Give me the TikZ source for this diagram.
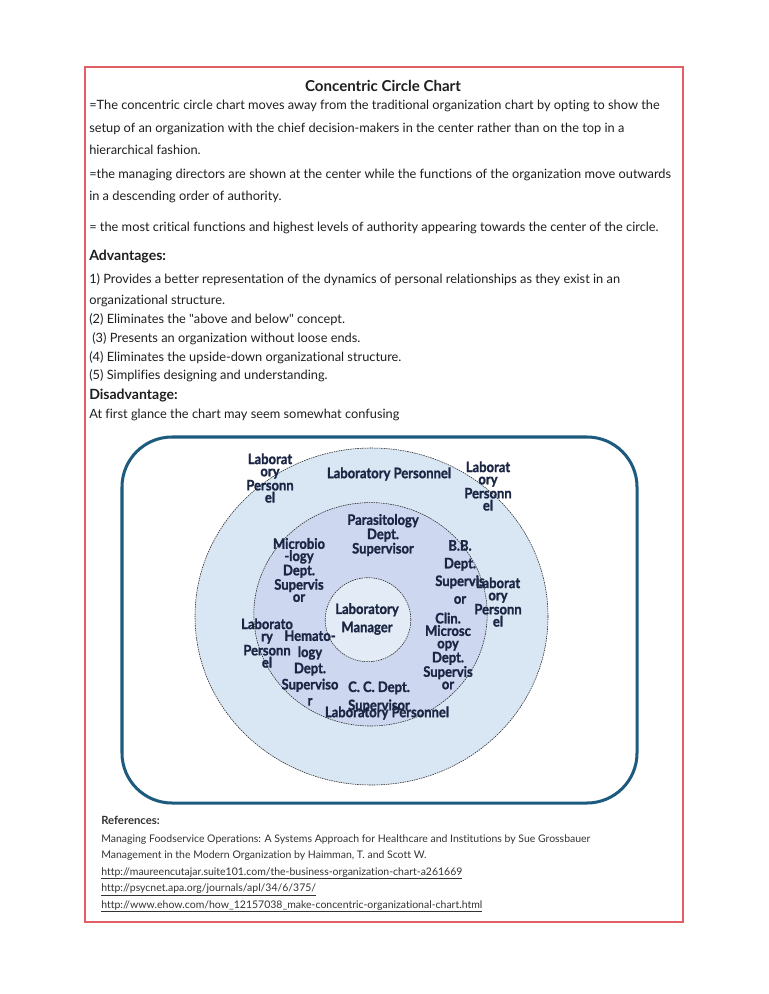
\documentclass[tikz,border=0pt]{standalone}
\usepackage{fontspec}
\setmainfont{Lato}[Ligatures=NoCommon]
\newfontfamily\labfont{Lato}[FakeStretch=0.9,Ligatures=NoCommon,BoldFeatures={FakeBold=1.3}]
\usepackage{tikz}
\definecolor{framered}{HTML}{E06068}
\definecolor{boxblue}{HTML}{1C5A7E}
\definecolor{labnavy}{HTML}{1B2644}
\definecolor{ringout}{HTML}{D9E6F3}
\definecolor{ringmid}{HTML}{CDD7EF}
\definecolor{ringin}{HTML}{E3ECF6}
\newcommand\labsize[1]{\labfont\bfseries\fontsize{11.5}{#1}\selectfont}
\tikzset{
  body/.style={anchor=base west,inner sep=0pt,text=black!88,font=\fontsize{10.2}{12}\selectfont},
  head/.style={body,font=\fontsize{11.2}{13}\selectfont\bfseries},
  refline/.style={anchor=base west,inner sep=0pt,text=black!80,font=\fontsize{8.35}{10}\selectfont},
  lab/.style={align=center,inner sep=0pt,text=labnavy,font=\labsize{9.7pt}},
  ring/.style={draw=black!85,line width=0.45pt,dash pattern=on 1.2pt off 0.7pt},
}
\begin{document}
\begin{tikzpicture}[x=0.28mm,y=-0.28mm]
  \useasboundingbox[fill=white] (0,0) rectangle (768,994);

  % page frame
  \draw[framered,line width=1.2pt] (85,67) rectangle (683,922);

  % text above the chart
  \node[head,anchor=base,font=\fontsize{12}{14}\selectfont\bfseries] (title) at (383,92) {Concentric Circle Chart};
  \node[body] (p1a) at (89,110) {=The concentric circle chart moves away from the traditional organization chart by opting to show the};
  \node[body] (p1b) at (89,133) {setup of an organization with the chief decision-makers in the center rather than on the top in a};
  \node[body] (p1c) at (89,155) {hierarchical fashion.};
  \node[body] (p2a) at (89,179) {=the managing directors are shown at the center while the functions of the organization move outwards};
  \node[body] (p2b) at (89,201) {in a descending order of authority.};
  \node[body] (p3) at (89,231) {= the most critical functions and highest levels of authority appearing towards the center of the circle.};

  \node[head] (adv) at (89,261) {Advantages:};
  \foreach \x/\y/\t [count=\i] in {
    89/283/{1) Provides a better representation of the dynamics of personal relationships as they exist in an},
    89/304/{organizational structure.},
    89/323/{(2) Eliminates the \textquotedbl above and below\textquotedbl{} concept.},
    92/342/{(3) Presents an organization without loose ends.},
    89/361/{(4) Eliminates the upside-down organizational structure.},
    89/379/{(5) Simplifies designing and understanding.}} {
    \node[body] (adv\i) at (\x,\y) {\t};
  }
  \node[head] (dis) at (89,399) {Disadvantage:};
  \node[body] (dis1) at (89,418) {At first glance the chart may seem somewhat confusing};

  % chart box and rings
  \draw[boxblue,line width=2.4pt,rounded corners=14mm] (122,437) rectangle (637,803);
  \coordinate (cout) at (371.5,616.5);
  \coordinate (cmid) at (370.5,614.3);
  \coordinate (cin) at (368,619.7);
  \draw[ring,fill=ringout] (cout) ellipse [x radius=176.5,y radius=168.5];
  \draw[ring,fill=ringmid] (cmid) ellipse [x radius=116.7,y radius=111.7];
  \draw[ring,fill=ringin] (cin) ellipse [x radius=42.8,y radius=42];

  % labels
  \node[lab] (lpTL) at (270,478) {Laborat\\ory\\Personn\\el};
  \node[lab] (lpTop) at (389,474) {Laboratory Personnel};
  \node[lab] (lpTR) at (488,486) {Laborat\\ory\\Personn\\el};
  \node[lab] (para) at (383,535) {Parasitology\\Dept.\\Supervisor};
  \node[lab] (micro) at (299,570) {Microbio\\-logy\\Dept.\\Supervis\\or};
  \node[lab,font=\labsize{14.1pt}] (bb) at (460,572) {B.B.\\Dept.\\Supervis\\or};
  \node[lab] (lpR) at (498,602) {Laborat\\ory\\Personn\\el};
  \node[lab,font=\labsize{14.5pt}] (mgr) at (367,619) {Laboratory\\Manager};
  \node[lab,font=\labsize{9.9pt}] (clin) at (448,651) {Clin.\\Microsc\\opy\\Dept.\\Supervis\\or};
  \node[lab] (lpL) at (267,643) {Laborato\\ry\\Personn\\el};
  \node[lab,font=\labsize{12.9pt}] (hema) at (310,668) {Hemato-\\logy\\Dept.\\Superviso\\r};
  \node[lab,font=\labsize{14.5pt}] (cc) at (379,697) {C. C. Dept.\\Supervisor};
  \node[lab] (lpBot) at (387,713) {Laboratory Personnel};

  % references
  \node[refline,font=\fontsize{9}{10}\selectfont\bfseries] (refs) at (101,824) {References:};
  \node[refline] (ref1) at (101,842) {Managing Foodservice Operations: A Systems Approach for Healthcare and Institutions by Sue Grossbauer};
  \node[refline] (ref2) at (101,858.5) {Management in the Modern Organization by Haimman, T. and Scott W.};
  \node[refline] (ref3) at (101,875) {\underline{http://maureencutajar.suite101.com/the-business-organization-chart-a261669}};
  \node[refline] (ref4) at (101,891.5) {\underline{http://psycnet.apa.org/journals/apl/34/6/375/}};
  \node[refline] (ref5) at (101,908) {\underline{http://www.ehow.com/how\_12157038\_make-concentric-organizational-chart.html}};

\end{tikzpicture}
\end{document}
